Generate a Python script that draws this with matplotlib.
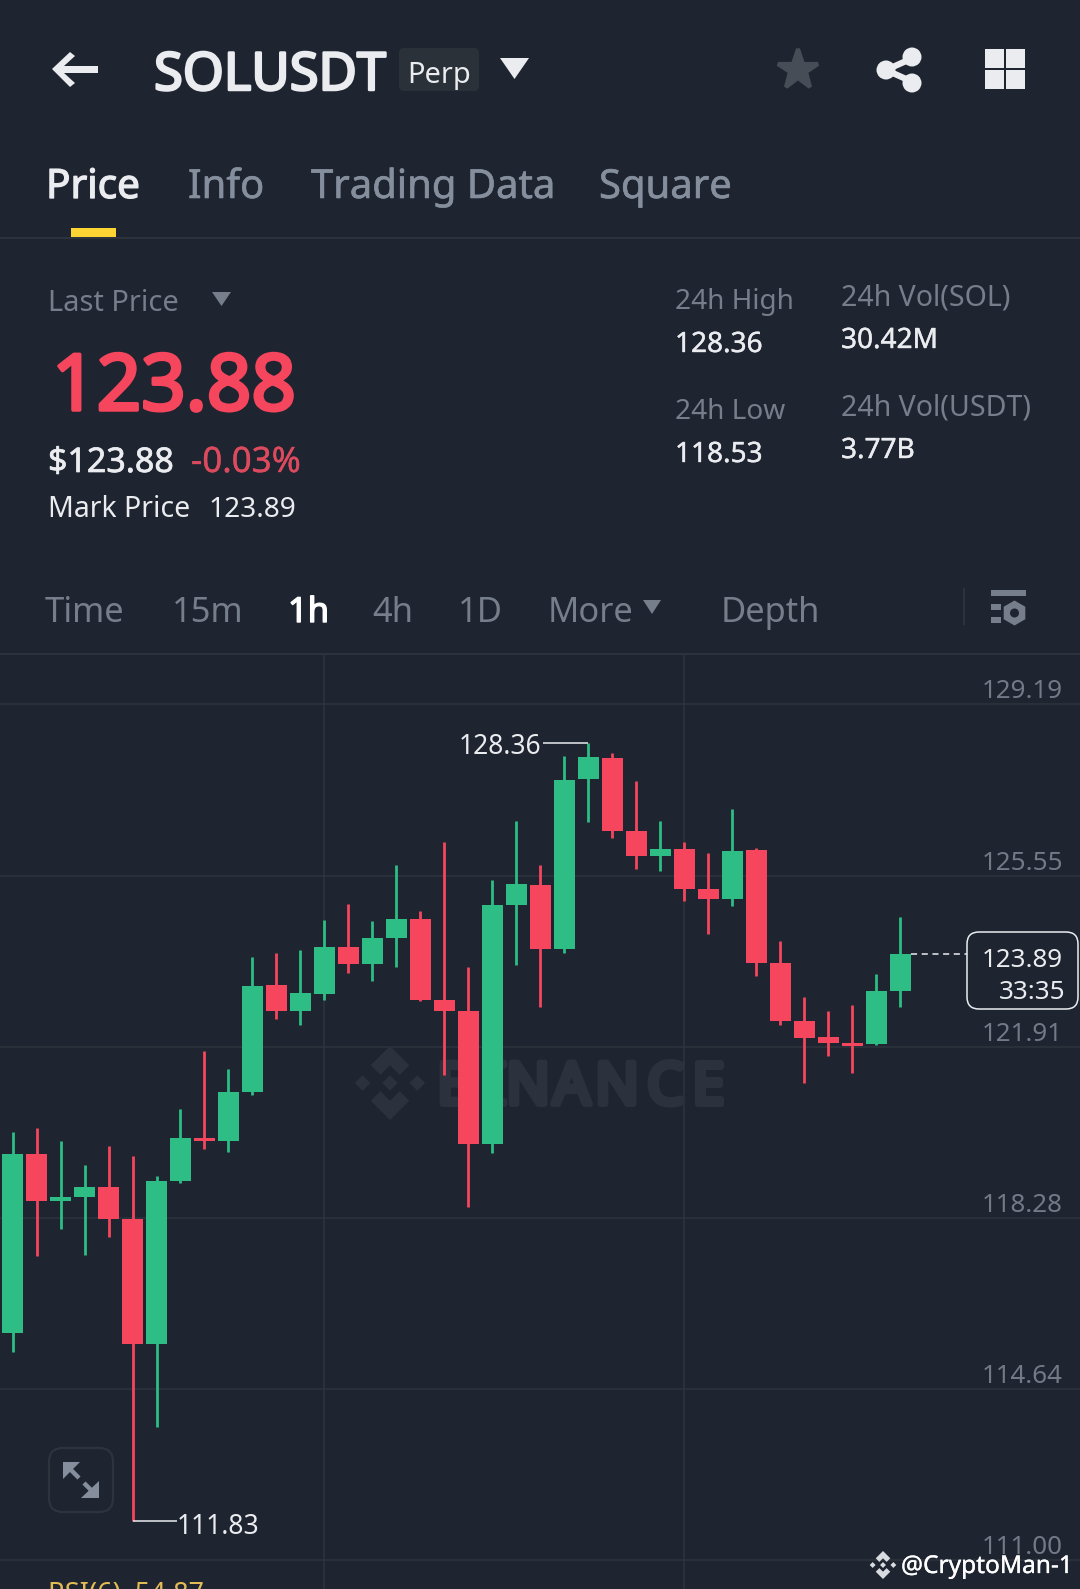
#!/usr/bin/env python3

import matplotlib
matplotlib.use("Agg")
import matplotlib.pyplot as plt
import matplotlib.patheffects as pe
from matplotlib.patches import Polygon, Circle, Rectangle, FancyBboxPatch, RegularPolygon

BG = "#1e2430"
LINE = "#2e343e"
GREEN = "#2ebd85"
RED = "#f6465d"
WHITE = "#eaecef"
GREY = "#848e9c"
MUTED = "#767e8b"
MARK = "#2c323d"

plt.rcParams['font.family'] = ['Noto Sans', 'DejaVu Sans']

# hourly candles
opens = [115.82, 119.63, 118.64, 118.72, 118.93, 118.26, 115.60, 119.07, 119.98, 119.90,
         120.96, 123.22, 122.67, 123.03, 124.03, 123.67, 124.22, 124.63, 122.91, 122.67,
         119.85, 124.93, 125.36, 124.00, 127.60, 128.05, 126.50, 125.96, 126.12, 125.27,
         125.06, 126.09, 123.69, 122.46, 122.11, 121.99, 121.97, 123.10]
highs = [120.11, 120.18, 119.90, 119.39, 119.81, 119.60, 119.17, 120.60, 121.82, 121.43,
         123.81, 123.90, 123.97, 124.61, 124.94, 124.59, 125.78, 124.79, 126.27, 123.61,
         125.45, 126.70, 125.78, 128.10, 128.36, 128.16, 127.55, 126.72, 126.26, 126.04,
         126.97, 126.14, 124.17, 122.98, 122.67, 122.79, 123.46, 124.66]
lows = [115.43, 117.47, 118.03, 117.49, 117.86, 111.83, 113.83, 119.01, 119.73, 119.68,
        120.88, 122.50, 122.38, 122.91, 123.49, 123.32, 123.60, 122.89, 121.31, 118.51,
        119.66, 123.66, 122.75, 123.91, 126.68, 126.34, 125.69, 125.65, 125.02, 124.30,
        124.90, 123.42, 122.38, 121.15, 121.72, 121.36, 121.94, 122.76]
closes = [119.63, 118.64, 118.71, 118.93, 118.25, 115.60, 119.06, 119.98, 119.90, 120.96,
          123.20, 122.67, 123.05, 124.03, 123.68, 124.22, 124.62, 122.91, 122.67, 119.85,
          124.93, 125.37, 124.00, 127.58, 128.06, 126.50, 125.96, 126.11, 125.27, 125.06,
          126.08, 123.69, 122.47, 122.10, 122.00, 121.92, 123.10, 123.88]

price_ticks = [129.19, 125.55, 121.91, 118.28, 114.64, 111.00]
price_labels = ["129.19", "125.55", "121.91", "118.28", "114.64", "111.00"]
time_ticks = [13, 28]
last_price = 123.88

tabs = ["Info", "Trading Data", "Square"]
tab_x = [188, 311, 599]
intervals = ["Time", "15m", "1h", "4h", "1D", "More", "Depth"]
interval_x = [45, 172, 288, 372, 458, 548, 721]
watermark_letters = ["B", "I", "N", "A", "N", "C", "E"]
watermark_x = [437, 487, 506, 553, 595, 647, 692]


def px(size):
    return size * 0.72


fig = plt.figure(figsize=(10.8, 15.89), dpi=100, facecolor=BG)

under = fig.add_axes([0, 0, 1, 1], zorder=0)
ax = fig.add_axes([0, 0, 1, (1589 - 654) / 1589], zorder=1)
ui = fig.add_axes([0, 0, 1, 1], zorder=2)
for a in (under, ui):
    a.set_xlim(0, 1080)
    a.set_ylim(1589, 0)
    a.axis("off")
under.patch.set_visible(False)


def put(x, y, s, size, color=WHITE, stroke=0, ha="left", target=None):
    t = (target or ui).text(x, y, s, fontsize=px(size), color=color, ha=ha, va="baseline")
    # the installed Noto Sans has no heavier weight, so thicken the outline instead
    if stroke:
        t.set_path_effects([pe.withStroke(linewidth=px(stroke), foreground=color)])
    return t


def logo(a, cx, cy, r, color):
    shapes = [
        [(0, 1), (0.52, 0.48), (0.26, 0.22), (0, 0.48), (-0.26, 0.22), (-0.52, 0.48)],
        [(0, -1), (0.52, -0.48), (0.26, -0.22), (0, -0.48), (-0.26, -0.22), (-0.52, -0.48)],
        [(0, 0.21), (0.21, 0), (0, -0.21), (-0.21, 0)],
        [(-0.74, 0.21), (-0.53, 0), (-0.74, -0.21), (-0.95, 0)],
        [(0.74, 0.21), (0.95, 0), (0.74, -0.21), (0.53, 0)],
    ]
    for shape in shapes:
        a.add_patch(Polygon([(cx + u * r, cy - v * r) for u, v in shape], closed=True, fc=color, ec="none"))


def triangle(x0, x1, y0, y1, color):
    ui.add_patch(Polygon([(x0, y0), (x1, y0), ((x0 + x1) / 2, y1)], closed=True, fc=color, ec="none"))


# watermark sits under the candles
logo(under, 390, 1083, 37, MARK)
for letter, x in zip(watermark_letters, watermark_x):
    put(x, 1104, letter, 58, MARK, stroke=6, target=under)

# price chart
ax.set_facecolor("none")
ax.set_xlim(-12.57 / 23.99, (1080 - 12.57) / 23.99)
ax.set_ylim(129.19 - (1589 - 704.3) / 47.06, 129.19 + (704.3 - 654) / 47.06)
for spine in ax.spines.values():
    spine.set_visible(False)
ax.set_xticks(time_ticks)
ax.set_yticks(price_ticks)
ax.tick_params(length=0, labelbottom=False, labelleft=False)
ax.grid(True, color=LINE, linewidth=1.1)
ax.set_axisbelow(True)

for i, (o, h, l, c) in enumerate(zip(opens, highs, lows, closes)):
    color = GREEN if c >= o else RED
    ax.vlines(i, l, h, color=color, linewidth=2.0, zorder=3)
    ax.bar(i, abs(c - o), bottom=min(o, c), width=0.875, color=color, zorder=4)

for tick, label in zip(price_ticks, price_labels):
    ax.annotate(label, xy=(1, tick), xycoords=("axes fraction", "data"), xytext=(px(-17), px(6)),
                textcoords="offset points", ha="right", va="baseline", fontsize=px(26), color="#727a87")

# high / low / last markers
high_i = highs.index(max(highs))
low_i = lows.index(min(lows))
ax.hlines(highs[high_i], high_i - 1.88, high_i, color=WHITE, linewidth=1.1, zorder=5)
ax.annotate("128.36", xy=(high_i, highs[high_i]), xytext=(px(-47), px(-11)), textcoords="offset points",
            ha="right", va="baseline", fontsize=px(26.5), color=WHITE)
ax.hlines(lows[low_i], low_i, low_i + 1.85, color=WHITE, linewidth=1.1, zorder=5)
ax.annotate("111.83", xy=(low_i, lows[low_i]), xytext=(px(44), px(-13)), textcoords="offset points",
            ha="left", va="baseline", fontsize=px(26.5), color=WHITE)
ax.hlines(last_price, 37.45, 39.8, color=WHITE, linewidth=1.1, linestyles=(0, (4, 3)), zorder=5)

# header
ui.add_patch(Polygon([(52, 69), (70, 52), (75, 56), (64, 66), (98, 66), (98, 73), (64, 73), (75, 83), (70, 87)],
                     closed=True, fc=WHITE, ec="none"))
put(154, 90, "SOLUSDT", 52.5, WHITE, stroke=2.5)
ui.add_patch(FancyBboxPatch((402, 51), 74, 37, boxstyle="round,pad=3,rounding_size=5", fc="#2b3139", ec="none"))
put(407, 83, "Perp", 29, WHITE)
triangle(500, 529, 58, 79, WHITE)
ui.plot([797.5], [70], marker="*", markersize=30, color="#474d57", markeredgecolor="#474d57",
        markeredgewidth=3, linestyle="none")
ui.plot([915, 886, 915], [57, 70, 83], color=WHITE, linewidth=4.5)
for cx, cy in [(912, 57), (886, 70), (912, 83)]:
    ui.add_patch(Circle((cx, cy), 9.5, fc=WHITE, ec="none"))
for x0, y0 in [(985, 49), (1006, 49), (985, 70), (1006, 70)]:
    ui.add_patch(Rectangle((x0, y0), 19, 19, fc=WHITE, ec="none"))

put(46, 198, "Price", 40.5, WHITE, stroke=1.3)
for name, x in zip(tabs, tab_x):
    put(x, 198, name, 40, GREY, stroke=0.6)
ui.add_patch(Rectangle((71, 228), 45, 9, fc="#fcd535", ec="none"))
ui.plot([0, 1080], [238, 238], color=LINE, linewidth=1.4)

# stats
put(48, 311, "Last Price", 29, MUTED)
triangle(212, 231, 292, 306, MUTED)
put(52, 410, "123.88", 78, RED, stroke=3.5)
put(48, 472, "$123.88", 34, WHITE, stroke=0.7)
put(191, 472, "-0.03%", 35, "#dc4a5e", stroke=0.4)
put(48, 517, "Mark Price", 28.5, WHITE)
put(208, 517, "123.89", 28, WHITE)

put(675, 309, "24h High", 28, MUTED)
put(675, 352, "128.36", 28, WHITE, stroke=0.4)
put(675, 419, "24h Low", 28, MUTED)
put(675, 462, "118.53", 28, WHITE, stroke=0.4)
put(841, 306, "24h Vol(SOL)", 28.5, MUTED)
put(841, 348, "30.42M", 28, WHITE, stroke=0.4)
put(841, 415, "24h Vol(USDT)", 28.5, MUTED)
put(841, 458, "3.77B", 28, WHITE, stroke=0.4)

# interval bar
for name, x in zip(intervals, interval_x):
    if name == "1h":
        put(x, 622, name, 34.5, "#ffffff", stroke=1.4)
    else:
        put(x, 622, name, 34.5, MUTED)
triangle(643, 661, 600, 614, MUTED)
ui.plot([964, 964], [589, 624], color=LINE, linewidth=1.4)
ui.add_patch(Rectangle((991, 590), 35, 6, fc=MUTED, ec="none"))
ui.add_patch(Rectangle((991, 604), 10, 6, fc=MUTED, ec="none"))
ui.add_patch(Rectangle((991, 617), 10, 6, fc=MUTED, ec="none"))
ui.add_patch(RegularPolygon((1014.5, 613), 6, radius=12.5, fc=MUTED, ec="none"))
ui.add_patch(Circle((1014.5, 613), 4.5, fc=BG, ec="none"))
ui.plot([0, 1080], [653.5, 653.5], color=LINE, linewidth=1.4)

# current price box
ui.add_patch(FancyBboxPatch((979, 944), 87, 53, boxstyle="round,pad=12,rounding_size=12", fc=BG, ec=WHITE, linewidth=1.1))
put(1063, 967, "123.89", 26, WHITE, ha="right")
put(1065, 999, "33:35", 26, WHITE, ha="right")

# expand button
ui.add_patch(FancyBboxPatch((63, 1462), 36, 36, boxstyle="round,pad=14,rounding_size=14", fc="none", ec="#2e343e", linewidth=1.6))
ui.add_patch(Polygon([(63, 1462), (80, 1462), (63, 1479)], closed=True, fc=GREY, ec="none"))
ui.add_patch(Polygon([(99, 1498), (99, 1481), (81, 1498)], closed=True, fc=GREY, ec="none"))
ui.plot([70, 79], [1469, 1478], color=GREY, linewidth=3.2, solid_capstyle="butt")
ui.plot([84, 92], [1483, 1491], color=GREY, linewidth=3.2, solid_capstyle="butt")

put(48, 1602, "RSI(6)  54.87", 27, "#e3bb55")

logo(ui, 883, 1565, 14, "#d8dbe0")
put(901, 1573, "@CryptoMan-1", 24.5, "#ffffff", stroke=0.3)

plt.savefig("out.png", dpi=100, facecolor=BG)
